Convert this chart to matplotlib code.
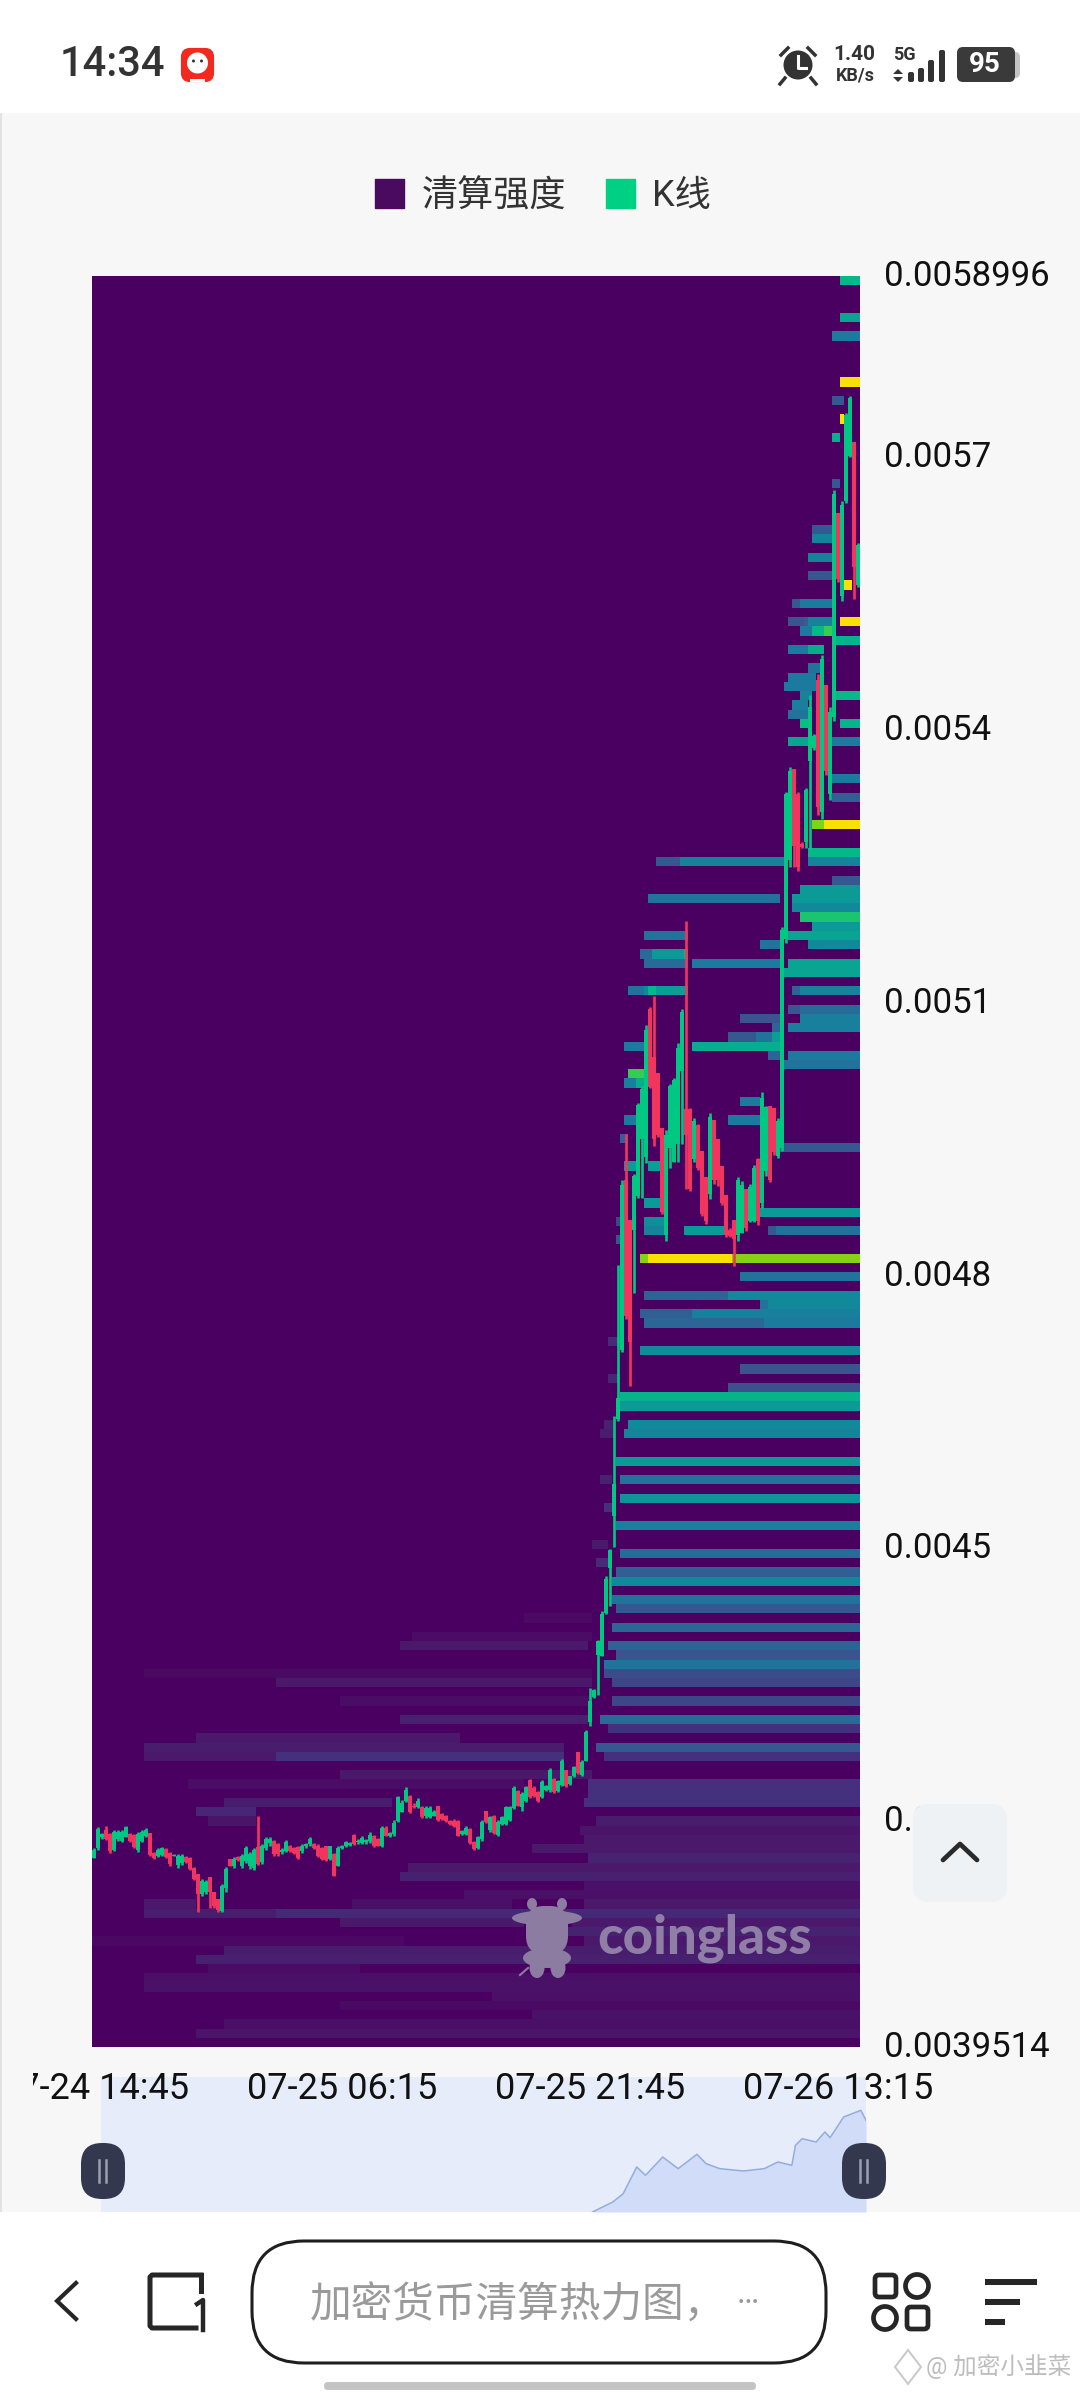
import matplotlib
matplotlib.use('Agg')
import matplotlib.pyplot as plt
import numpy as np
from matplotlib.colors import LinearSegmentedColormap
from matplotlib.patches import Circle, Ellipse, FancyBboxPatch, Patch, Polygon, Rectangle
from matplotlib.transforms import Bbox, ScaledTranslation

plt.rcParams['font.family'] = ['Roboto', 'Noto Sans CJK SC', 'DejaVu Sans']

# prices are in millionths
price_low = 3951.4
price_high = 5899.6

y_ticks = [3951.4, 4200, 4500, 4800, 5100, 5400, 5700, 5899.6]
y_labels = ['0.0039514', '0.0042', '0.0045', '0.0048', '0.0051', '0.0054', '0.0057', '0.0058996']
x_ticks = [0.5, 62.5, 124.5, 186.5]
x_labels = ['07-24 14:45', '07-25 06:15', '07-25 21:45', '07-26 13:15']

k_open = [
    4159, 4170, 4182, 4190, 4186, 4168, 4180, 4178, 4182, 4186,
    4185, 4168, 4178, 4184, 4187, 4165, 4161, 4163, 4169, 4165,
    4162, 4152, 4154, 4160, 4159, 4148, 4142, 4120, 4122, 4138,
    4122, 4114, 4101, 4126, 4158, 4150, 4160, 4150, 4156, 4150,
    4148, 4171, 4155, 4170, 4176, 4178, 4175, 4166, 4167, 4173,
    4170, 4171, 4167, 4172, 4175, 4175, 4172, 4170, 4172, 4158,
    4164, 4150, 4170, 4172, 4174, 4185, 4177, 4176, 4177, 4178,
    4184, 4180, 4173, 4192, 4184, 4186, 4200, 4210, 4222, 4228,
    4216, 4215, 4215, 4205, 4204, 4206, 4216, 4208, 4206, 4200,
    4200, 4200, 4186, 4186, 4191, 4177, 4170, 4180, 4211, 4190,
    4206, 4185, 4197, 4197, 4201, 4214, 4233, 4215, 4222, 4245,
    4236, 4232, 4226, 4234, 4234, 4246, 4233, 4240, 4256, 4241,
    4249, 4276, 4251, 4266, 4309, 4336, 4383, 4381, 4429, 4478,
    4536, 4642, 4718, 4905, 4861, 4850, 4887, 4950, 4930, 5093,
    5040, 5023, 4962, 4845, 4940, 4925, 4945, 5025, 4983, 4983,
    4928, 4966, 4937, 4908, 4890, 4971, 4950, 4920, 4889, 4850,
    4861, 4845, 4847, 4895, 4860, 4860, 4928, 4880, 4915, 4987,
    4984, 4932, 4940, 5170, 5257, 5357, 5330, 5275, 5277, 5366,
    5380, 5455, 5310, 5450, 5330, 5415, 5639, 5548, 5652, 5702,
    5717, 5560,
]
k_high = [
    4170, 4193, 4187, 4194, 4187, 4190, 4190, 4190, 4195, 4187,
    4186, 4188, 4190, 4192, 4187, 4166, 4170, 4171, 4170, 4166,
    4164, 4164, 4164, 4161, 4160, 4149, 4142, 4136, 4135, 4138,
    4122, 4114, 4131, 4149, 4158, 4160, 4161, 4164, 4172, 4166,
    4170, 4205, 4175, 4182, 4182, 4179, 4176, 4170, 4179, 4174,
    4171, 4172, 4175, 4176, 4182, 4176, 4175, 4171, 4173, 4173,
    4165, 4172, 4174, 4178, 4177, 4186, 4180, 4184, 4180, 4188,
    4185, 4181, 4194, 4195, 4188, 4201, 4227, 4223, 4237, 4229,
    4220, 4225, 4216, 4216, 4216, 4212, 4217, 4209, 4207, 4201,
    4202, 4201, 4190, 4194, 4192, 4178, 4184, 4201, 4211, 4206,
    4207, 4201, 4205, 4216, 4216, 4238, 4234, 4232, 4239, 4246,
    4238, 4233, 4245, 4240, 4258, 4247, 4245, 4268, 4256, 4250,
    4260, 4276, 4267, 4300, 4346, 4345, 4399, 4431, 4469, 4499,
    4645, 4812, 4905, 4956, 4861, 4912, 4990, 5009, 5076, 5095,
    5108, 5023, 4962, 4960, 5011, 5017, 5056, 5093, 5190, 4984,
    4973, 4967, 4937, 4908, 4979, 4971, 4950, 4920, 4889, 4852,
    4861, 4908, 4904, 4895, 4901, 4922, 4929, 5002, 4987, 4987,
    4984, 4973, 5183, 5332, 5359, 5357, 5332, 5277, 5336, 5439,
    5396, 5462, 5483, 5450, 5425, 5664, 5639, 5652, 5749, 5768,
    5717, 5606,
]
k_low = [
    4159, 4168, 4180, 4179, 4165, 4167, 4178, 4177, 4182, 4177,
    4170, 4166, 4177, 4182, 4162, 4158, 4160, 4162, 4159, 4151,
    4161, 4148, 4152, 4154, 4146, 4135, 4100, 4118, 4120, 4104,
    4104, 4100, 4100, 4122, 4150, 4148, 4156, 4148, 4154, 4147,
    4146, 4152, 4153, 4168, 4172, 4162, 4162, 4164, 4166, 4166,
    4164, 4158, 4165, 4170, 4173, 4169, 4160, 4157, 4156, 4157,
    4139, 4150, 4169, 4171, 4172, 4174, 4175, 4175, 4175, 4176,
    4171, 4172, 4171, 4183, 4182, 4184, 4199, 4210, 4221, 4209,
    4214, 4214, 4203, 4203, 4203, 4205, 4200, 4201, 4199, 4196,
    4193, 4183, 4185, 4185, 4175, 4168, 4169, 4178, 4198, 4188,
    4186, 4183, 4196, 4196, 4200, 4213, 4216, 4211, 4221, 4225,
    4226, 4221, 4225, 4233, 4232, 4231, 4232, 4239, 4237, 4240,
    4248, 4252, 4250, 4266, 4305, 4335, 4339, 4381, 4428, 4436,
    4501, 4640, 4716, 4752, 4678, 4781, 4885, 4885, 4924, 5006,
    4943, 4952, 4868, 4838, 4918, 4925, 4925, 4945, 4895, 4893,
    4925, 4916, 4865, 4857, 4884, 4901, 4898, 4878, 4842, 4842,
    4811, 4838, 4847, 4849, 4859, 4859, 4856, 4874, 4910, 4903,
    4933, 4929, 4937, 5166, 5250, 5250, 5245, 5270, 5270, 5269,
    5378, 5307, 5302, 5351, 5323, 5410, 5563, 5542, 5650, 5700,
    5544, 5557,
]
k_close = [
    4168, 4191, 4186, 4180, 4167, 4188, 4188, 4188, 4193, 4178,
    4171, 4186, 4188, 4190, 4163, 4159, 4168, 4170, 4160, 4153,
    4163, 4162, 4162, 4155, 4147, 4136, 4120, 4134, 4133, 4122,
    4106, 4102, 4128, 4147, 4151, 4158, 4157, 4162, 4170, 4164,
    4168, 4153, 4173, 4180, 4180, 4164, 4164, 4168, 4177, 4167,
    4165, 4159, 4173, 4175, 4180, 4170, 4161, 4158, 4157, 4172,
    4140, 4170, 4173, 4177, 4176, 4175, 4178, 4181, 4179, 4185,
    4172, 4173, 4192, 4184, 4187, 4198, 4226, 4220, 4234, 4210,
    4215, 4222, 4204, 4214, 4214, 4210, 4201, 4202, 4200, 4197,
    4194, 4184, 4189, 4192, 4176, 4169, 4182, 4199, 4199, 4204,
    4187, 4199, 4204, 4215, 4215, 4236, 4217, 4230, 4237, 4226,
    4227, 4222, 4243, 4238, 4256, 4232, 4244, 4266, 4238, 4249,
    4259, 4253, 4265, 4298, 4332, 4344, 4398, 4428, 4466, 4498,
    4571, 4665, 4900, 4755, 4727, 4910, 4988, 5005, 5070, 5008,
    4950, 4955, 4870, 4955, 5009, 5015, 5050, 5090, 4955, 4895,
    4970, 4918, 4868, 4860, 4975, 4905, 4905, 4880, 4845, 4843,
    4840, 4905, 4900, 4852, 4897, 4918, 4860, 4995, 4985, 4905,
    4936, 4970, 5180, 5330, 5355, 5273, 5250, 5271, 5334, 5425,
    5394, 5315, 5478, 5355, 5420, 5660, 5566, 5648, 5747, 5765,
    5580, 5604,
]

# heatmap cells: (row from top, first column, last column, strength 0-1)
bands_top = [
    (0, 187, 192, .72), (4, 187, 192, .65), (6, 185, 192, .45), (11, 187, 192, 1),
    (13, 185, 188, .3), (15, 187, 188, 1), (17, 185, 187, .68), (22, 185, 187, .3),
    (27, 180, 185, .3), (28, 180, 185, .5), (30, 179, 185, .5), (32, 179, 185, .3),
    (33, 188, 190, 1), (35, 175, 177, .3), (35, 177, 185, .45), (37, 174, 178, .28),
    (37, 178, 179, .32), (37, 179, 185, .5), (37, 187, 192, 1), (38, 177, 180, .45),
    (38, 180, 183, .72), (38, 183, 185, .82), (39, 185, 192, .7), (40, 174, 179, .45),
    (40, 179, 183, .68), (42, 179, 183, .42), (43, 174, 181, .45), (44, 173, 181, .45),
    (45, 177, 180, .5), (45, 185, 192, .72), (46, 175, 179, .48), (47, 174, 179, .42),
    (48, 177, 180, .75), (48, 187, 192, .7), (50, 174, 179, .65), (50, 185, 192, .45),
    (54, 185, 192, .45), (56, 185, 192, .32), (59, 180, 183, .88), (59, 183, 192, 1),
    (62, 179, 192, .72), (63, 141, 147, .3), (63, 147, 173, .5), (63, 179, 192, .5),
]
bands_mid = [
    (65, 185, 192, .3), (66, 177, 192, .6), (67, 139, 172, .42), (67, 175, 192, .6),
    (68, 175, 192, .52), (69, 177, 192, .78), (70, 180, 192, .6), (71, 138, 149, .42),
    (71, 174, 192, .65), (72, 167, 172, .42), (72, 179, 192, .52), (73, 137, 140, .38),
    (73, 140, 148, .6), (73, 148, 149, .72), (74, 138, 149, .38), (74, 150, 172, .45),
    (74, 174, 192, .65), (75, 173, 192, .65), (77, 134, 138, .42), (77, 138, 139, .52),
    (77, 139, 141, .72), (77, 141, 149, .62), (77, 175, 177, .35), (77, 177, 192, .5),
    (79, 174, 177, .3), (79, 177, 192, .38), (80, 162, 172, .28), (80, 177, 192, .48),
    (81, 170, 172, .35), (81, 174, 192, .48), (82, 159, 166, .3), (82, 166, 170, .42),
    (82, 170, 172, .62), (83, 133, 139, .45), (83, 150, 172, .68), (84, 169, 172, .35),
    (84, 174, 192, .45), (85, 173, 192, .42), (86, 134, 139, .82), (87, 133, 136, .48),
    (87, 136, 138, .68), (89, 162, 167, .45), (91, 133, 137, .45), (91, 159, 167, .45),
    (93, 132, 134, .35), (94, 172, 192, .3), (96, 133, 137, .6), (96, 139, 143, .62),
    (100, 138, 143, .6), (101, 167, 192, .6), (102, 131, 133, .25), (102, 138, 144, .55),
    (103, 138, 144, .5), (103, 148, 159, .6), (103, 169, 171, .3), (103, 171, 192, .42),
    (104, 131, 133, .3), (106, 137, 139, .88), (106, 139, 160, 1), (106, 160, 192, .88),
    (108, 162, 192, .42), (110, 138, 159, .35), (110, 159, 192, .52), (111, 167, 169, .42),
    (111, 169, 192, .52), (112, 137, 150, .33), (112, 150, 192, .48), (113, 138, 168, .36),
    (113, 168, 192, .45), (115, 129, 132, .18), (116, 137, 192, .55), (118, 162, 192, .28),
    (119, 129, 132, .16), (120, 159, 192, .27), (121, 132, 192, .7), (122, 132, 192, .6),
    (124, 134, 192, .52), (124, 128, 131, .14), (125, 133, 192, .5), (125, 127, 131, .12),
]
bands_low = [
    (128, 131, 192, .6), (130, 132, 192, .42), (130, 127, 130, .14), (132, 132, 192, .58),
    (133, 128, 130, .2), (135, 131, 192, .48), (137, 125, 129, .1), (138, 132, 192, .38),
    (139, 126, 129, .18), (140, 131, 192, .33), (141, 130, 192, .52), (143, 130, 192, .42),
    (144, 131, 192, .3), (145, 108, 125, .04), (146, 130, 192, .36), (147, 80, 125, .05),
    (148, 77, 124, .1), (148, 129, 192, .35), (149, 131, 192, .28), (150, 128, 192, .42),
    (151, 13, 125, .04), (151, 128, 192, .26), (152, 46, 125, .1), (152, 130, 192, .25),
    (154, 62, 125, .05), (154, 130, 192, .25), (156, 77, 124, .13), (156, 127, 192, .38),
    (157, 129, 192, .2), (158, 26, 92, .1), (159, 13, 118, .12), (159, 126, 192, .3),
    (160, 13, 46, .1), (160, 46, 118, .2), (160, 128, 192, .2), (162, 62, 125, .1),
    (163, 24, 108, .05), (163, 124, 192, .2), (164, 124, 192, .2), (165, 33, 75, .12),
    (165, 123, 192, .2), (166, 26, 41, .16), (167, 29, 41, .08), (167, 126, 192, .12),
    (168, 122, 192, .08), (169, 123, 192, .1), (170, 110, 192, .1), (171, 124, 192, .14),
    (172, 79, 192, .1), (173, 77, 192, .13), (174, 123, 192, .07), (175, 93, 192, .06),
    (176, 13, 26, .1), (176, 65, 105, .06), (176, 123, 192, .1), (177, 13, 46, .12),
    (177, 46, 192, .17), (178, 62, 108, .1), (178, 120, 192, .1), (179, 110, 192, .14),
    (180, 0, 78, .03), (180, 123, 192, .1), (181, 33, 192, .12), (182, 26, 192, .13),
    (183, 29, 67, .05), (184, 13, 192, .06), (185, 13, 192, .07), (186, 100, 192, .06),
    (187, 62, 192, .04), (188, 110, 192, .07), (189, 33, 192, .06), (190, 26, 192, .08),
]

# overview strip under the chart
overview_col = [123.4, 128.5, 131.1, 134.5, 136.7, 141, 144.9, 149.6, 151.9, 155.3, 161.3,
                166.5, 169.9, 173.4, 174.3, 176, 179.5, 181.7, 183, 186.4, 190.7, 192]
overview_price = [4300, 4445, 4565, 4951, 4830, 5095, 4927, 5134, 4999, 4927, 4893,
                  4927, 5023, 4975, 5264, 5360, 5312, 5457, 5375, 5674, 5770, 5626]

W, H = 1080, 2392


def px_axes(left, top, right, bottom, **kw):
    return fig.add_axes([left / W, 1 - bottom / H, (right - left) / W, (bottom - top) / H], **kw)


fig = plt.figure(figsize=(W / 100, H / 100), dpi=100, facecolor='white')

# page background
bg = px_axes(0, 0, W, H, zorder=0)
bg.set_xlim(0, W)
bg.set_ylim(H, 0)
bg.axis('off')
bg.add_patch(Rectangle((0, 113), W, 2099, color='#f7f7f7', lw=0))
bg.add_patch(Rectangle((0, 113), 2, 2099, color='#e2e2e2', lw=0))

# overview strip
ov = px_axes(100.5, 2077, 866, 2212, zorder=1, facecolor='#e6ecfa')
ov.fill_between(overview_col, overview_price, 4300, color='#d0dcf8', lw=0)
ov.plot(overview_col, overview_price, color='#93acdc', lw=1.1)
ov.set_xlim(0, 192)
ov.set_ylim(4300, 6252)
ov.axis('on')
ov.set_xticks([])
ov.set_yticks([])
for s in ov.spines.values():
    s.set_visible(False)

# heatmap + candles
heat = np.zeros((192, 192))
for row, start, end, level in bands_top + bands_mid + bands_low:
    heat[row, start:end] = level

cmap = LinearSegmentedColormap.from_list('liq', [
    (0, '#4a0060'), (.1, '#4a1a6c'), (.2, '#44307c'), (.28, '#3a5590'), (.45, '#1c7a9e'), (.55, '#0f8f9a'),
    (.65, '#0aa593'), (.75, '#04c084'), (.85, '#50d040'), (.9, '#a0d400'), (1, '#f8e000')])

ax = px_axes(92, 276, 860, 2047, zorder=2)
ax.imshow(heat, cmap=cmap, vmin=0, vmax=1, origin='upper', aspect='auto', interpolation='nearest',
          extent=[0, 192, price_low, price_high], zorder=1)

opens, highs, lows, closes = map(np.array, (k_open, k_high, k_low, k_close))
cols = np.arange(len(opens)) + .5
up = closes >= opens
candle_colors = np.where(up, '#00c882', '#f0355f')
ax.vlines(cols, lows, highs, colors=candle_colors, lw=1.9, zorder=2)
ax.bar(cols, closes - opens, bottom=opens, width=.95, color=candle_colors, lw=0, zorder=3)

ax.set_xlim(0, 192)
ax.set_ylim(price_low, price_high)
ax.yaxis.tick_right()
ax.set_yticks(y_ticks, y_labels)
ax.set_xticks(x_ticks, x_labels)
ax.tick_params(axis='y', length=0, pad=17, labelsize=25, labelcolor='#111111')
ax.tick_params(axis='x', length=0, pad=17, labelsize=26, labelcolor='#111111')
for s in ax.spines.values():
    s.set_visible(False)
for lbl in ax.get_xticklabels():
    lbl.set_clip_on(True)
    lbl.set_clip_box(Bbox([[33, 0], [W, H]]))
# labels sit a little higher in the original
lift = ScaledTranslation(0, 3 / 100, fig.dpi_scale_trans)
for lbl in ax.get_yticklabels():
    lbl.set_transform(lbl.get_transform() + lift)

# legend
fig.legend(handles=[Patch(color='#4a0a5e'), Patch(color='#00d084')], labels=['清算强度', 'K线'],
           ncol=2, frameon=False, fontsize=26, labelcolor='#333333', handlelength=.8, handleheight=.83,
           handletextpad=.48, columnspacing=1.1, loc='center', bbox_to_anchor=(543 / W, 1 - 196 / H))

# everything else on the screen, in pixels
ui = px_axes(0, 0, W, H, zorder=3)
ui.set_xlim(0, W)
ui.set_ylim(H, 0)
ui.axis('off')
ui.patch.set_alpha(0)

# status bar
ui.text(60, 65, '14:34', fontsize=30, color='#333333', va='center', weight='medium')
ui.add_patch(FancyBboxPatch((183, 50), 29, 30, boxstyle='round,pad=0,rounding_size=7', fc='#f02a1e', ec='#f02a1e', lw=3))
ui.add_patch(Circle((197.5, 63), 10.5, fc='white', lw=0))
ui.add_patch(Circle((193.5, 61), 1.5, fc='#333333', lw=0))
ui.add_patch(Circle((201.5, 61), 1.5, fc='#333333', lw=0))
ui.add_patch(Rectangle((190, 79), 15, 3, fc='white', lw=0))
ui.add_patch(Circle((798, 65), 14.5, fc='#333333', lw=0))
ui.plot([798, 798, 806], [56, 68, 68], color='white', lw=2.2)
ui.plot([785, 780], [78, 84], color='#333333', lw=2.5)
ui.plot([811, 816], [78, 84], color='#333333', lw=2.5)
ui.plot([781, 788], [55, 48], color='#333333', lw=2.5)
ui.plot([815, 808], [55, 48], color='#333333', lw=2.5)
ui.text(854, 55, '1.40', fontsize=15, weight='bold', color='#333333', ha='center', va='center')
ui.text(855, 76, 'KB/s', fontsize=13, weight='bold', color='#333333', ha='center', va='center')
ui.text(904, 55, '5G', fontsize=13, weight='bold', color='#333333', ha='center', va='center')
ui.add_patch(Polygon([[893, 74], [898, 69], [903, 74]], color='#333333', lw=0))
ui.add_patch(Polygon([[893, 77], [898, 82], [903, 77]], color='#333333', lw=0))
for bar_x, bar_top in zip([908, 918, 928, 939], [72, 68, 60, 50]):
    ui.add_patch(FancyBboxPatch((bar_x, bar_top), 6, 82 - bar_top, boxstyle='round,pad=0,rounding_size=2', fc='#333333', lw=0))
ui.add_patch(FancyBboxPatch((1008, 52), 12, 26, boxstyle='round,pad=0,rounding_size=5', fc='#c4c4c4', lw=0))
ui.add_patch(FancyBboxPatch((957, 47), 58, 35, boxstyle='round,pad=0,rounding_size=6', fc='#3a3a3a', lw=0))
ui.text(985, 65, '95', fontsize=20, weight='bold', color='white', ha='center', va='center')

# watermark
logo_color = '#8d7ca2'
ui.add_patch(Ellipse((547, 1918), 70, 15, fc=logo_color, lw=0))
ui.add_patch(FancyBboxPatch((526, 1906), 42, 48, boxstyle='round,pad=0,rounding_size=18', fc=logo_color, lw=0))
ui.add_patch(Ellipse((532, 1904), 10, 12, fc=logo_color, lw=0))
ui.add_patch(Ellipse((562, 1904), 10, 12, fc=logo_color, lw=0))
ui.add_patch(Ellipse((547, 1958), 48, 20, fc=logo_color, lw=0))
ui.add_patch(Ellipse((537, 1968), 15, 20, fc=logo_color, lw=0))
ui.add_patch(Ellipse((558, 1968), 15, 20, fc=logo_color, lw=0))
ui.plot([520, 528], [1975, 1968], color=logo_color, lw=1.5)
ui.text(597, 1938, 'coinglass', fontsize=38, weight='black', family='Lato', color='#8f7fa6', va='center')

# scroll up button
ui.add_patch(FancyBboxPatch((913, 1804), 94, 98, boxstyle='round,pad=0,rounding_size=16', fc='#eef2f4', lw=0))
ui.plot([943, 960, 977], [1860, 1844, 1860], color='#2a2a2a', lw=3.4, solid_capstyle='round', solid_joinstyle='round')

# overview handles
for hx in (81, 842):
    ui.add_patch(FancyBboxPatch((hx, 2143), 44, 56, boxstyle='round,pad=0,rounding_size=21', fc='#33384f', lw=0))
    ui.plot([hx + 18, hx + 18], [2160, 2182], color='#9aa0b4', lw=1.8)
    ui.plot([hx + 25, hx + 25], [2160, 2182], color='#9aa0b4', lw=1.8)

# bottom bar
bg.add_patch(Rectangle((0, 2212), W, 180, color='white', lw=0))
ui.add_patch(FancyBboxPatch((252, 2241), 574, 122, boxstyle='round,pad=0,rounding_size=52', fc='white', ec='#1e1e1e', lw=2.2))
ui.text(310, 2306, '加密货币清算热力图，', fontsize=30, color='#9a9a9a', va='center')
ui.text(748, 2294, '…', fontsize=24, color='#9a9a9a', ha='center', va='center')
ui.plot([76, 57, 76], [2283, 2301, 2319], color='#262626', lw=3, solid_joinstyle='miter')
ui.plot([201, 152, 150, 150, 152, 196], [2275, 2275, 2277, 2326, 2328, 2328], color='#262626', lw=3.6)
ui.plot([201, 201], [2275, 2291], color='#262626', lw=3.6)
ui.plot([197, 203, 203], [2304, 2300, 2330], color='#262626', lw=3.2)
ui.add_patch(FancyBboxPatch((875, 2275), 21, 22, boxstyle='round,pad=0,rounding_size=4', fc='none', ec='#262626', lw=3.4))
ui.add_patch(Circle((917, 2286), 11.5, fc='none', ec='#262626', lw=3.4))
ui.add_patch(Circle((885, 2318), 11.5, fc='none', ec='#262626', lw=3.4))
ui.add_patch(FancyBboxPatch((907, 2307), 21, 22, boxstyle='round,pad=0,rounding_size=4', fc='none', ec='#262626', lw=3.4))
for bar_top, bar_w in zip([2279, 2299, 2319], [52, 35, 20]):
    ui.add_patch(Rectangle((985, bar_top), bar_w, 6, color='#262626', lw=0))
ui.add_patch(Polygon([[908, 2350], [921, 2367], [908, 2384], [895, 2367]], fc='none', ec='#c8c8c8', lw=1.4))
ui.text(926, 2367, '@ 加密小韭菜', fontsize=17, color='#bdbdbd', va='center')
ui.add_patch(FancyBboxPatch((324, 2382), 432, 8, boxstyle='round,pad=0,rounding_size=4', fc='#c4c4c4', lw=0))

fig.savefig('out.png', dpi=100, facecolor='white')
